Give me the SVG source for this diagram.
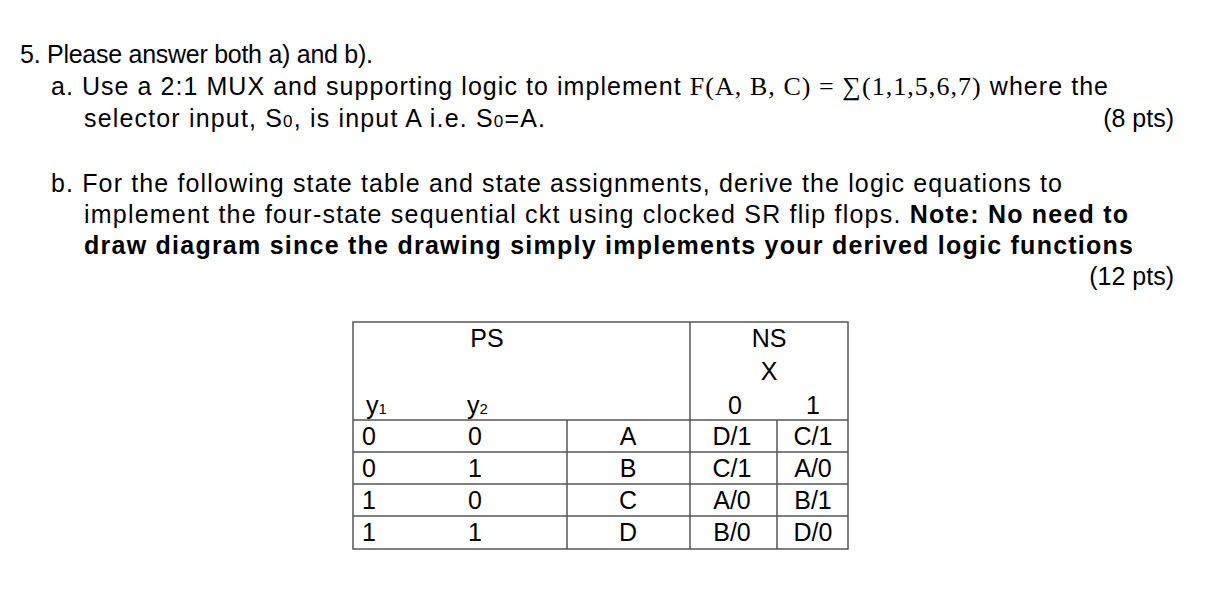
<svg xmlns="http://www.w3.org/2000/svg" width="1224" height="606" viewBox="0 0 1224 606">
<style>
text{font-family:"Liberation Sans",Arial,sans-serif;font-size:25px;fill:#000}
.m{font-family:"Liberation Serif","Times New Roman",serif;font-size:26px}
.c{text-anchor:middle}
.g{stroke:#555;stroke-width:1.5;fill:none}
</style>
<rect width="1224" height="606" fill="#fff"/>
<g id="text">
<text x="20" y="63" textLength="353" lengthAdjust="spacing">5. Please answer both a) and b).</text>
<text x="51" y="95" textLength="1057" lengthAdjust="spacing">a. Use a 2:1 MUX and supporting logic to implement <tspan class="m">F(A, B, C) = ∑(1,1,5,6,7)</tspan> where the</text>
<text x="84" y="127" textLength="461" lengthAdjust="spacing">selector input, S<tspan font-size="17">0</tspan>, is input A i.e. S<tspan font-size="17">0</tspan>=A.</text>
<text x="1174" y="127" text-anchor="end">(8 pts)</text>
<text x="51" y="192" textLength="1011" lengthAdjust="spacing">b. For the following state table and state assignments, derive the logic equations to</text>
<text x="84" y="223" textLength="1044" lengthAdjust="spacing">implement the four-state sequential ckt using clocked SR flip flops.  <tspan font-weight="bold">Note: No need to</tspan></text>
<text x="84" y="254" font-weight="bold" textLength="1049" lengthAdjust="spacing">draw diagram since the drawing simply implements your derived logic functions</text>
<text x="1174" y="285" text-anchor="end">(12 pts)</text>
</g>
<g id="table">
<rect class="g" x="353" y="322" width="495" height="227"/>
<path class="g" d="M690 322V549M567 420V549M777 420V549M353 420H848M353 452H848M353 484H848M353 516H848"/>
<text x="487" y="347" class="c">PS</text>
<text x="769" y="347" class="c">NS</text>
<text x="769" y="380" class="c">X</text>
<text x="366" y="414">y<tspan font-size="15">1</tspan></text>
<text x="467" y="414">y<tspan font-size="15">2</tspan></text>
<text x="735" y="414" class="c">0</text>
<text x="813" y="414" class="c">1</text>
<text x="362" y="445">0</text><text x="468" y="445">0</text><text x="628" y="445" class="c">A</text><text x="732" y="445" class="c">D/1</text><text x="813" y="445" class="c">C/1</text>
<text x="362" y="477">0</text><text x="468" y="477">1</text><text x="628" y="477" class="c">B</text><text x="732" y="477" class="c">C/1</text><text x="813" y="477" class="c">A/0</text>
<text x="362" y="509">1</text><text x="468" y="509">0</text><text x="628" y="509" class="c">C</text><text x="732" y="509" class="c">A/0</text><text x="813" y="509" class="c">B/1</text>
<text x="362" y="541">1</text><text x="468" y="541">1</text><text x="628" y="541" class="c">D</text><text x="732" y="541" class="c">B/0</text><text x="813" y="541" class="c">D/0</text>
</g>
</svg>
